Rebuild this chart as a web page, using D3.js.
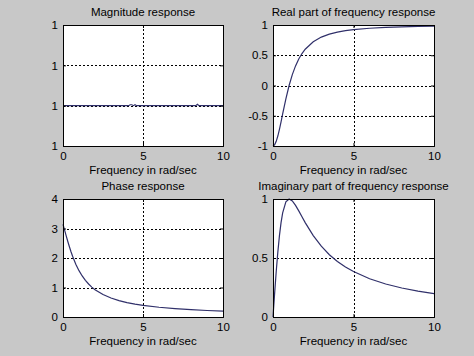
<!DOCTYPE html>
<html>
<head>
<meta charset="utf-8">
<script src="https://cdn.jsdelivr.net/npm/d3@7"></script>
<style>
  html, body { margin: 0; padding: 0; background: #c8c8c8; }
  svg { display: block; }
  text { font-family: "Liberation Sans", Arial, sans-serif; fill: #000; }
</style>
</head>
<body>
<svg id="chart" width="474" height="356"></svg>
<script>
// ---- data ----
const freq = [0, 0.1, 0.2, 0.3, 0.4, 0.5, 0.6, 0.8, 1, 1.2, 1.4, 1.6, 1.8, 2, 2.5, 3, 3.5, 4, 4.5, 5, 6, 7, 8, 9, 10];
const realPart = [-1, -0.98, -0.923, -0.835, -0.724, -0.6, -0.471, -0.22, 0, 0.18, 0.324, 0.438, 0.528, 0.6, 0.724, 0.8, 0.849, 0.882, 0.906, 0.923, 0.946, 0.96, 0.969, 0.976, 0.98];
const imagPart = [0, 0.198, 0.385, 0.55, 0.69, 0.8, 0.882, 0.976, 1, 0.984, 0.946, 0.899, 0.849, 0.8, 0.69, 0.6, 0.528, 0.471, 0.424, 0.385, 0.324, 0.28, 0.246, 0.22, 0.198];
const phase = [3.14, 2.943, 2.747, 2.558, 2.38, 2.214, 2.061, 1.791, 1.571, 1.391, 1.242, 1.118, 1.013, 0.927, 0.761, 0.644, 0.556, 0.49, 0.438, 0.395, 0.33, 0.284, 0.249, 0.221, 0.199];
const magFreq = [0, 4.1, 4.2, 4.3, 4.4, 4.5, 4.6, 4.7, 8.3, 8.4, 8.5, 10];
const magnitude = [1, 1, 1.0000000000000004, 1.0000000000000004, 1, 1.0000000000000004, 1, 1, 1, 1.0000000000000007, 1, 1];

const xTicks = [0, 5, 10];
const magTicks = [0.99999999999998, 1.0, 1.00000000000002, 1.00000000000004];
const magTickLabels = ["1", "1", "1", "1"];
const realTicks = [-1, -0.5, 0, 0.5, 1];
const phaseTicks = [0, 1, 2, 3, 4];
const imagTicks = [0, 0.5, 1];

const titles = ["Magnitude response", "Real part of frequency response", "Phase response", "Imaginary part of frequency response"];
const xLabel = "Frequency in rad/sec";

// ---- layout ----
const svg = d3.select("#chart");
const lineColor = "#30306a";
const fontSize = "11.5px";

const panels = [
  { box: [63, 25, 223, 146], mx: magFreq, my: magnitude, yDomain: [magTicks[0], magTicks[3]], yTicks: magTicks, yLabels: magTickLabels, title: titles[0] },
  { box: [273, 25, 434, 146], mx: freq, my: realPart, yDomain: [-1, 1], yTicks: realTicks, yLabels: realTicks.map(String), title: titles[1] },
  { box: [63, 199, 223, 317], mx: freq, my: phase, yDomain: [0, 4], yTicks: phaseTicks, yLabels: phaseTicks.map(String), title: titles[2] },
  { box: [273, 199, 434, 317], mx: freq, my: imagPart, yDomain: [0, 1], yTicks: imagTicks, yLabels: imagTicks.map(String), title: titles[3] }
];

panels.forEach(p => {
  const [x0, y0, x1, y1] = p.box;
  const x = d3.scaleLinear().domain([0, 10]).range([x0, x1]);
  const y = d3.scaleLinear().domain(p.yDomain).range([y1, y0]);
  const g = svg.append("g");

  g.append("rect").attr("x", x0).attr("y", y0).attr("width", x1 - x0).attr("height", y1 - y0)
    .attr("fill", "#fff");

  // grid
  g.selectAll(".vg").data(xTicks.slice(1, -1)).join("line")
    .attr("x1", d => Math.round(x(d)) + 0.5).attr("x2", d => Math.round(x(d)) + 0.5).attr("y1", y0).attr("y2", y1)
    .attr("stroke", "#000").attr("stroke-width", 1).attr("stroke-dasharray", "2,2");
  g.selectAll(".hg").data(p.yTicks.slice(1, -1)).join("line")
    .attr("x1", x0).attr("x2", x1).attr("y1", d => Math.round(y(d)) + 0.5).attr("y2", d => Math.round(y(d)) + 0.5)
    .attr("stroke", "#000").attr("stroke-width", 1).attr("stroke-dasharray", "2,2");

  // data
  const line = d3.line().x((d, i) => x(p.mx[i])).y(d => y(d));
  g.append("path").datum(p.my).attr("d", line)
    .attr("fill", "none").attr("stroke", lineColor).attr("stroke-width", 1.2);

  // axes (inward ticks, box)
  const xa = d3.axisBottom(x).tickValues(xTicks).tickSize(-3).tickPadding(6).tickFormat(d3.format("d"));
  const ya = d3.axisLeft(y).tickValues(p.yTicks).tickSize(-3).tickPadding(5).tickFormat((d, i) => p.yLabels[i]);
  const gx = g.append("g").attr("transform", `translate(0,${y1})`).call(xa);
  const gy = g.append("g").attr("transform", `translate(${x0},0)`).call(ya);
  const gx2 = g.append("g").attr("transform", `translate(0,${y0})`).call(d3.axisTop(x).tickValues(xTicks).tickSize(-3).tickFormat(""));
  const gy2 = g.append("g").attr("transform", `translate(${x1},0)`).call(d3.axisRight(y).tickValues(p.yTicks).tickSize(-3).tickFormat(""));
  [gx, gy, gx2, gy2].forEach(a => {
    a.selectAll("text").style("font-size", fontSize).style("font-family", "Liberation Sans, Arial, sans-serif");
    a.select(".domain").attr("stroke", "#000");
    a.selectAll(".tick line").attr("stroke", "#000");
  });

  // title and x label
  g.append("text").attr("x", (x0 + x1) / 2).attr("y", y0 - 9).attr("text-anchor", "middle")
    .style("font-size", fontSize).text(p.title);
  g.append("text").attr("x", (x0 + x1) / 2).attr("y", y1 + 28).attr("text-anchor", "middle")
    .style("font-size", fontSize).text(xLabel);
});
</script>
</body>
</html>
